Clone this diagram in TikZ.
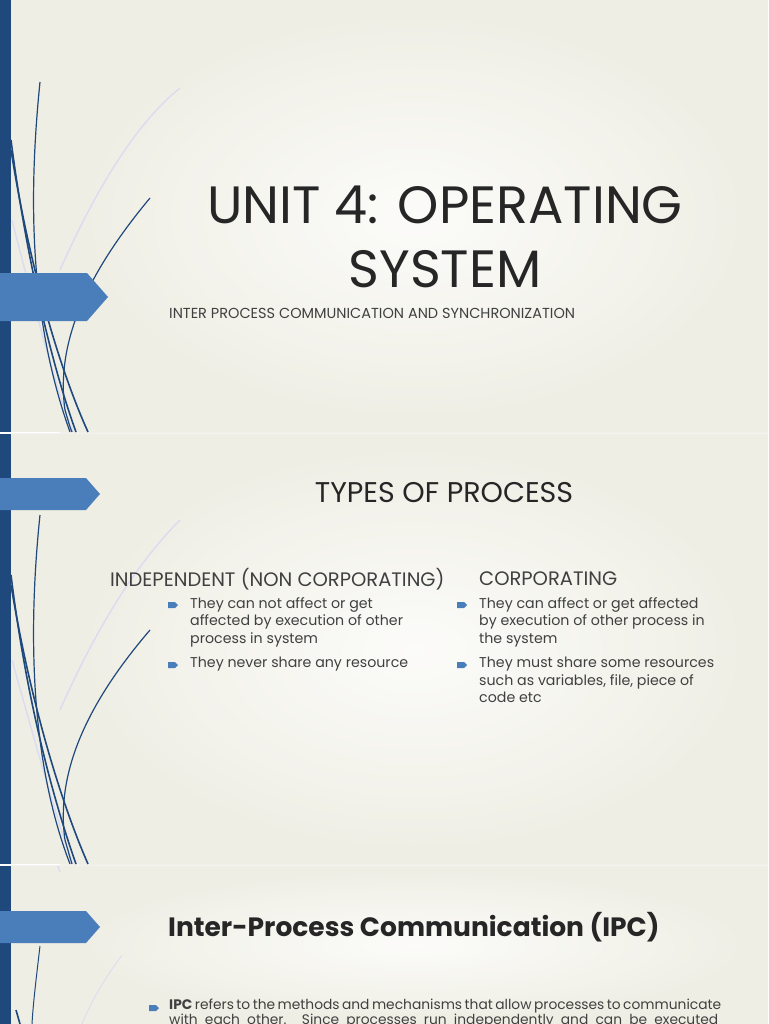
\documentclass[tikz,border=0pt]{standalone}
\usepackage{fontspec}
\setmainfont{Poppins}
\begin{document}
\begin{tikzpicture}[x=1pt,y=-1pt,
  arr/.style={fill=arrowblue},
  bar/.style={fill=darkblue},
  dk/.style={draw=darkblue,line width=1.6pt},
  lt/.style={draw=lightgray!70!blue!30,line width=1.4pt},
  tx/.style={inner sep=0pt,anchor=west,text=textgray},
  bul/.style={fill=arrowblue},
  body/.style={tx,font=\fontsize{14.2}{17.5}\selectfont,align=left,anchor=north west}]
\definecolor{darkblue}{HTML}{1F497D}
\definecolor{arrowblue}{HTML}{4A7EBB}
\definecolor{textgray}{HTML}{404040}
\definecolor{bg}{HTML}{EFEEE4}
\useasboundingbox (0,0) rectangle (768,1024);
% backgrounds
\foreach \a/\b in {0/432,434/864,866/1024}{
  \fill[bg] (0,\a) rectangle (768,\b);
  \shade[inner color=white,outer color=bg,opacity=0.8] (60,\a) rectangle (768,\b);
  \fill[darkblue] (0,\a) rectangle (11,\b);
}
\draw[bg!80!black!20,line width=1pt] (11,433) -- (768,433);
\draw[bg!80!black!20,line width=1pt] (11,865) -- (768,865);
% slide 1 curves
\begin{scope}
\clip (11,0) rectangle (768,432);
\draw[lt] (12,220) .. controls (40,330) and (60,400) .. (73,432);
\draw[lt] (60,270) .. controls (100,180) and (140,120) .. (180,88);
\draw[dk,line width=1.2pt] (40,82) .. controls (28,200) and (30,320) .. (70,432);
\draw[dk] (11,140) .. controls (25,250) and (50,360) .. (76,432);
\draw[dk] (11,150) .. controls (30,270) and (60,370) .. (88,432);
\draw[dk,line width=1.2pt] (150,198) .. controls (90,270) and (55,340) .. (65,410) .. controls (68,420) and (70,428) .. (72,432);
\end{scope}
% slide 2 curves
\begin{scope}
\clip (11,434) rectangle (768,864);
\draw[lt] (12,660) .. controls (40,760) and (60,830) .. (73,864);
\draw[lt] (60,710) .. controls (100,620) and (140,560) .. (180,520);
\draw[dk,line width=1.2pt] (40,515) .. controls (28,630) and (30,760) .. (70,864);
\draw[dk] (11,575) .. controls (25,690) and (50,790) .. (76,864);
\draw[dk] (11,585) .. controls (30,700) and (60,800) .. (88,864);
\draw[dk,line width=1.2pt] (150,630) .. controls (90,700) and (55,770) .. (65,840) .. controls (68,850) and (70,858) .. (72,864);
\end{scope}
% slide 3 curves
\begin{scope}
\clip (11,866) rectangle (768,1024);
\draw[dk,line width=1pt] (40,946) .. controls (36,980) and (33,1005) .. (32,1024);
\draw[lt,line width=0.8pt] (122,955) .. controls (100,985) and (90,1005) .. (82,1024);
\draw[dk] (16,1010) -- (20,1024);
\draw[lt] (58,866) -- (60,872);
\end{scope}
% arrows
\fill[arr] (0,273) -- (87,273) -- (108,297) -- (87,321) -- (0,321) -- cycle;
\fill[arr] (0,478) -- (86,478) -- (100,494) -- (86,510) -- (0,510) -- cycle;
\fill[arr] (0,911) -- (86,911) -- (100,927) -- (86,943) -- (0,943) -- cycle;
% slide 1 text
\node[tx,anchor=center,text=black!85,font=\fontsize{52.5}{64}\selectfont,align=center] (t1) at (445,237) {UNIT 4: OPERATING\\SYSTEM};
\node[tx,font=\fontsize{14.5}{16}\selectfont] (s1) at (169,313) {INTER PROCESS COMMUNICATION AND SYNCHRONIZATION};
% slide 2 text
\node[tx,anchor=center,text=black!85,font=\fontsize{28.5}{32}\selectfont] (t2) at (444,493) {TYPES OF PROCESS};
\node[tx,font=\fontsize{19.5}{22}\selectfont] (h1) at (110,579) {INDEPENDENT (NON CORPORATING)};
\node[tx,font=\fontsize{19.5}{22}\selectfont] (h2) at (479,579) {CORPORATING};
\node[body] (b1) at (190,597) {They can not affect or get\\affected by execution of other\\process in system};
\node[body] (b2) at (190,657) {They never share any resource};
\node[body] (b3) at (479,597) {They can affect or get affected\\by execution of other process in\\the system};
\node[body] (b4) at (479,657) {They must share some resources\\such as variables, file, piece of\\code etc};
\foreach \x/\y in {173/605,173/665,462/605,462/665}{
  \fill[bul] (\x-5,\y-3) -- (\x+2,\y-3) -- (\x+5,\y) -- (\x+2,\y+3) -- (\x-5,\y+3) -- cycle;}
% slide 3 text
\node[tx,text=black!85,font=\fontsize{26.5}{30}\selectfont\bfseries] (t3) at (168,927) {Inter-Process Communication (IPC)};
\fill[bul] (149,1005) -- (156,1005) -- (159,1008) -- (156,1011) -- (149,1011) -- cycle;
\node[body,font=\fontsize{13.8}{13}\selectfont,align=left] (b5) at (169,999) {\makebox[549pt][s]{\textbf{IPC} refers to the methods and mechanisms that allow processes to communicate}\\\makebox[549pt][s]{with each other. Since processes run independently and can be executed}};
\end{tikzpicture}
\end{document}
